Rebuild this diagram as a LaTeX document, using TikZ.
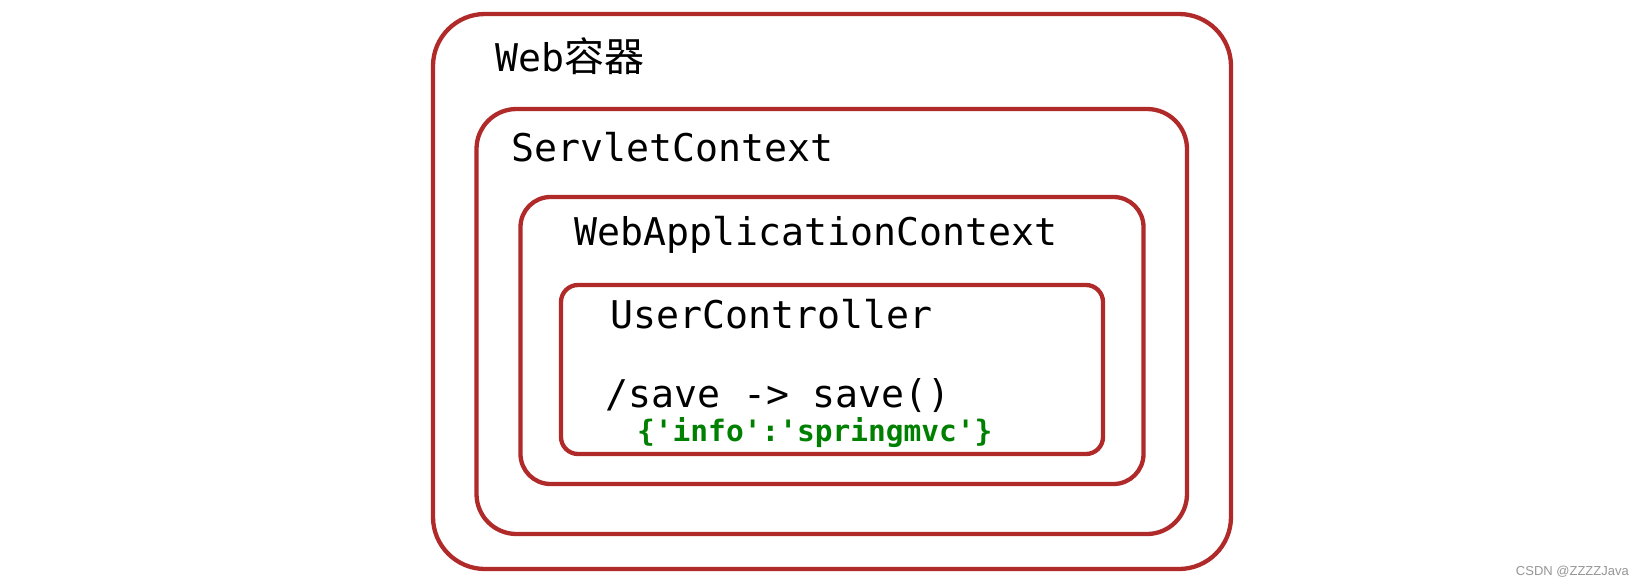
\documentclass[tikz,border=0pt]{standalone}
\usepackage{fontspec}
\newfontfamily\mono{DejaVu Sans Mono}
\newfontfamily\cjk{Noto Sans CJK SC}
\newfontfamily\wmfont{Liberation Sans}
\definecolor{boxred}{RGB}{176,42,42}
\definecolor{infogreen}{RGB}{0,128,0}
\definecolor{wmgray}{RGB}{150,150,150}
\begin{document}
\begin{tikzpicture}[x=1pt,y=-1pt,
  box/.style={draw=boxred, line width=4.3pt, rectangle, inner sep=0pt},
  label/.style={anchor=base west, inner sep=0pt, font=\mono\fontsize{38.2}{46}\selectfont},
  info/.style={anchor=base west, inner sep=0pt, text=infogreen, font=\mono\bfseries\fontsize{29.5}{36}\selectfont},
  wm/.style={anchor=base east, inner sep=0pt, text=wmgray, font=\wmfont\fontsize{13}{16}\selectfont}]
\useasboundingbox[fill=white] (0,0) rectangle (1644,583);
% boxes
\node[box, rounded corners=52pt, minimum width=798pt, minimum height=555pt] (web) at (832,291.5) {};
\node[box, rounded corners=40pt, minimum width=710.5pt, minimum height=425pt] (servlet) at (831.75,321.5) {};
\node[box, rounded corners=30pt, minimum width=623pt, minimum height=287pt] (wac) at (832,340.5) {};
\node[box, rounded corners=17pt, minimum width=542pt, minimum height=169pt] (uc) at (832,369.5) {};
% texts
\node[label] (webtxt) at (495,71.7) {Web{\cjk\fontsize{40}{46}\selectfont 容器}};
\node[label] (servtxt) at (511,161) {ServletContext};
\node[label] (wactxt) at (574.5,245) {WebApplicationContext};
\node[label] (uctxt) at (610.6,328.3) {UserController};
\node[label] (savetxt) at (605.5,407.7) {/save -> save()};
\node[info] (infotxt) at (637,441.7) {\{'info':'springmvc'\}};
\node[wm] (wmtxt) at (1629,575) {CSDN @ZZZZJava};
\end{tikzpicture}
\end{document}
